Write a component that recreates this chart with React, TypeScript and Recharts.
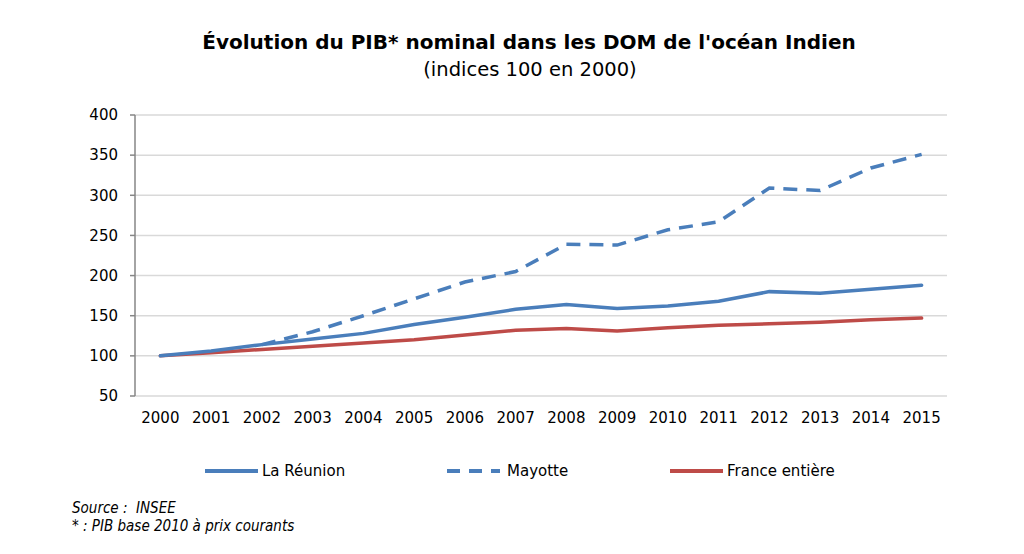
import React from 'react';
import { LineChart, Line, XAxis, YAxis, CartesianGrid } from 'recharts';

const years = ['2000','2001','2002','2003','2004','2005','2006','2007','2008','2009','2010','2011','2012','2013','2014','2015'];
const reunion = [100, 106, 114, 121, 128, 139, 148, 158, 164, 159, 162, 168, 180, 178, 183, 188];
const mayotte: (number | null)[] = [null, null, 114, 130, 150, 171, 192, 205, 239, 238, 257, 267, 309, 306, 334, 351];
const france = [100, 104, 108, 112, 116, 120, 126, 132, 134, 131, 135, 138, 140, 142, 145, 147];
const yTicks = [50, 100, 150, 200, 250, 300, 350, 400];

const seriesNames = { reunion: 'La Réunion', mayotte: 'Mayotte', france: 'France entière' };

const data = years.map((y, i) => ({ i, year: y, reunion: reunion[i], mayotte: mayotte[i], france: france[i] }));
const labelTicks = years.map((_, i) => i);
const boundaryTicks = [...years.map((_, i) => i - 0.5), years.length - 0.5];

const BLUE = '#4a7ebb';
const RED = '#be4b48';
const FONT = '"DejaVu Sans", Verdana, sans-serif';

const legendItems = [
  { name: seriesNames.reunion, color: BLUE, dash: undefined as string | undefined, x: 205 },
  { name: seriesNames.mayotte, color: BLUE, dash: '14 10', x: 447 },
  { name: seriesNames.france, color: RED, dash: undefined as string | undefined, x: 670 },
];

export default function App() {
  return (
    <div style={{ position: 'absolute', left: 0, top: 0, width: 1024, height: 554, background: '#fff', fontFamily: FONT }}>
      <div style={{ position: 'absolute', left: 17, width: 1024, top: 29, textAlign: 'center', fontWeight: 'bold', fontSize: 20, color: '#000', lineHeight: '26px' }}>
        Évolution du PIB* nominal dans les DOM de l'océan Indien
      </div>
      <div style={{ position: 'absolute', left: 18, width: 1024, top: 57, textAlign: 'center', fontSize: 19.5, color: '#000', lineHeight: '26px' }}>
        (indices 100 en 2000)
      </div>
      <LineChart width={1024} height={554} data={data} margin={{ top: 115, right: 77, left: 0, bottom: 128 }}>
        <CartesianGrid horizontal vertical={false} stroke="#d9d9d9" strokeWidth={1.5} />
        <XAxis
          xAxisId="lab"
          dataKey="i"
          type="number"
          domain={[-0.5, years.length - 0.5]}
          ticks={labelTicks}
          tickFormatter={(v: number) => years[v] ?? ''}
          tickLine={false}
          axisLine={false}
          height={30}
          tick={{ fontSize: 15, fill: '#000', fontFamily: FONT }}
          tickMargin={10}
          interval={0}
        />
        <XAxis
          xAxisId="bnd"
          dataKey="i"
          type="number"
          domain={[-0.5, years.length - 0.5]}
          ticks={boundaryTicks}
          tick={false}
          tickSize={6}
          tickLine={{ stroke: '#868686', strokeWidth: 1.5 }}
          axisLine={{ stroke: '#868686', strokeWidth: 1.5 }}
          height={0}
          interval={0}
        />
        <YAxis
          domain={[50, 400]}
          ticks={yTicks}
          width={135}
          interval={0}
          tickSize={5}
          tickMargin={12}
          tickLine={{ stroke: '#868686', strokeWidth: 1.5 }}
          axisLine={{ stroke: '#868686', strokeWidth: 1.5 }}
          tick={{ fontSize: 15, fill: '#000', fontFamily: FONT }}
        />
        <Line xAxisId="lab" dataKey="mayotte" name={seriesNames.mayotte} stroke={BLUE} strokeWidth={3.5} strokeDasharray="14 9" dot={false} isAnimationActive={false} connectNulls={false} />
        <Line xAxisId="lab" dataKey="france" name={seriesNames.france} stroke={RED} strokeWidth={3.5} dot={false} isAnimationActive={false} strokeLinecap="round" />
        <Line xAxisId="lab" dataKey="reunion" name={seriesNames.reunion} stroke={BLUE} strokeWidth={3.5} dot={false} isAnimationActive={false} strokeLinecap="round" />
      </LineChart>
      <svg style={{ position: 'absolute', left: 0, top: 455 }} width={1024} height={32}>
        {legendItems.map((it) => (
          <g key={it.name}>
            <line x1={it.x} x2={it.x + 53} y1={16} y2={16} stroke={it.color} strokeWidth={4} strokeDasharray={it.dash ? '13 9' : undefined} />
            <text x={it.dash ? it.x + 60 : it.x + 57} y={21} fontSize={15} fontFamily={FONT} fill="#000">{it.name}</text>
          </g>
        ))}
      </svg>
      <div style={{ position: 'absolute', left: 72, top: 499, fontSize: 15, fontStyle: 'italic', fontFamily: '"Liberation Sans Narrow", "DejaVu Sans Condensed", sans-serif', color: '#000', lineHeight: '18px' }}>
        <div>Source :&nbsp; INSEE</div>
        <div>* : PIB base 2010 à prix courants</div>
      </div>
    </div>
  );
}
